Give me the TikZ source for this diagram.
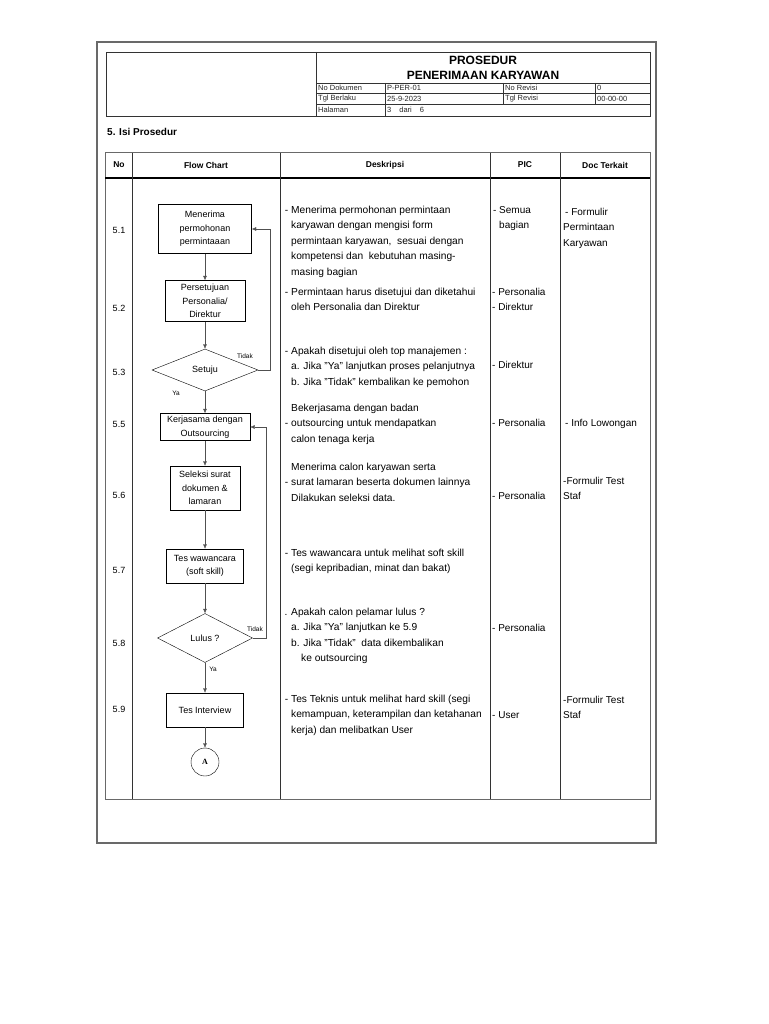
\documentclass[tikz,border=0pt]{standalone}
\usepackage{fontspec}
\setmainfont{Liberation Sans}
\newfontfamily\letterfont{Liberation Serif}
\usetikzlibrary{positioning, arrows.meta, shapes.geometric}
\definecolor{frameGray}{RGB}{105,105,105}
\definecolor{lineGray}{RGB}{80,80,80}

\begin{document}
\begin{tikzpicture}[x=1pt, y=-1pt,
  stepbox/.style={draw=black, align=center, inner sep=1pt, font=\fontsize{9}{13.5}\selectfont},
  decision/.style={diamond, draw=black, inner sep=0pt, aspect=2.5, font=\fontsize{9}{12}\selectfont},
  flow/.style={draw=lineGray, -{Latex[length=4.5pt,width=4pt]}},
  desc/.style={font=\fontsize{10.2}{15.4}\selectfont, align=left, anchor=north west, inner sep=0pt},
  pic/.style={font=\fontsize{10}{15.5}\selectfont, align=left, anchor=north west, inner sep=0pt},
  num/.style={font=\fontsize{9}{11}\selectfont, inner sep=0pt},
  colhead/.style={font=\fontsize{8.5}{10}\selectfont\bfseries, inner sep=0pt},
  meta/.style={font=\fontsize{7.5}{9}\selectfont, anchor=west, inner sep=0pt, text=black!85},
  tag/.style={font=\fontsize{6.5}{8}\selectfont, inner sep=0pt},
]
  \useasboundingbox[fill=white] (0,0) rectangle (768,1024);

  % page frame and header block
  \draw[frameGray, line width=1.5pt] (97,42) rectangle (656,843);
  \draw[black!80, line width=0.8pt] (106,52) rectangle (650,116);
  \draw[black!80, line width=0.8pt] (316,52) -- (316,116);
  \draw[black!80, line width=0.6pt] (316,83) -- (650,83) (316,93) -- (650,93) (316,104) -- (650,104);
  \draw[black!80, line width=0.6pt] (385,83) -- (385,116) (503,83) -- (503,104) (595,83) -- (595,104);

  \node[font=\fontsize{12}{14}\selectfont\bfseries, inner sep=0pt] (title1) at (483,60) {PROSEDUR};
  \node[font=\fontsize{12}{14}\selectfont\bfseries, inner sep=0pt] (title2) at (483,75) {PENERIMAAN KARYAWAN};
  \node[meta] (m1) at (318,88) {No Dokumen};
  \node[meta] (m2) at (387,88) {P-PER-01};
  \node[meta] (m3) at (505,88) {No Revisi};
  \node[meta] (m4) at (597,88) {0};
  \node[meta] (m5) at (318,98.5) {Tgl Berlaku};
  \node[meta] (m6) at (387,98.5) {25-9-2023};
  \node[meta] (m7) at (505,98.5) {Tgl Revisi};
  \node[meta] (m8) at (597,98.5) {00-00-00};
  \node[meta] (m9) at (318,110) {Halaman};
  \node[meta] (m10) at (387,110) {3\hspace{8pt}dari\hspace{8pt}6};

  \node[font=\fontsize{10}{12}\selectfont\bfseries, anchor=west, inner sep=0pt] (sect) at (107,132) {5. Isi Prosedur};

  % table grid
  \draw[frameGray, line width=1pt] (105,153) rectangle (650,799);
  \draw[black, line width=1.6pt] (105,178) -- (650,178);
  \foreach \x in {132,280,490,560}
    \draw[black!80, line width=0.8pt] (\x,153) -- (\x,799);

  \node[colhead] (h1) at (119,165) {No};
  \node[colhead] (h2) at (206,165) {Flow Chart};
  \node[colhead] (h3) at (385,165) {Deskripsi};
  \node[colhead] (h4) at (525,165) {PIC};
  \node[colhead] (h5) at (605,165) {Doc Terkait};

  \foreach \n/\y [count=\i] in {5.1/230,5.2/308,5.3/372,5.5/424,5.6/495,5.7/570,5.8/643,5.9/709}
    \node[num] (no\i) at (119,\y) {\n};

  % flow chart
  \node[stepbox, minimum width=93, minimum height=49] (recv) at (205,229) {Menerima\\permohonan\\permintaaan};
  \node[stepbox, minimum width=80, minimum height=41] (appr) at (205,301) {Persetujuan\\Personalia/\\Direktur};
  \node[decision, minimum width=106, minimum height=42] (agree) at (205,370) {Setuju};
  \node[stepbox, minimum width=90, minimum height=27] (outs) at (205,427) {Kerjasama dengan\\Outsourcing};
  \node[stepbox, minimum width=70, minimum height=44] (selek) at (205,488) {Seleksi surat\\dokumen \&\\lamaran};
  \node[stepbox, minimum width=77, minimum height=34] (wawan) at (205,566) {Tes wawancara\\(soft skill)};
  \node[decision, minimum width=95, minimum height=49] (pass) at (205,638) {Lulus ?};
  \node[stepbox, minimum width=77, minimum height=34] (intv) at (205,710) {Tes Interview};
  \node[circle, draw=black, minimum size=28, inner sep=0pt, font=\letterfont\fontsize{8}{9}\selectfont\bfseries] (conA) at (205,762) {A};

  \draw[flow] (recv) -- (appr);
  \draw[flow] (appr) -- (agree);
  \draw[flow] (agree) -- (outs);
  \draw[flow] (outs) -- (selek);
  \draw[flow] (selek) -- (wawan);
  \draw[flow] (wawan) -- (pass);
  \draw[flow] (pass) -- (intv);
  \draw[flow] (intv) -- (conA);
  \draw[flow] (agree.east) -- ++(12,0) |- (recv.east);
  \draw[flow] (pass.east) -- ++(13,0) |- (outs.east);

  \node[tag] (no1) at (245,356) {Tidak};
  \node[tag] (yes1) at (176,393) {Ya};
  \node[tag] (no2) at (255,629) {Tidak};
  \node[tag] (yes2) at (213,669) {Ya};

  % deskripsi
  \node[desc] (d1) at (291,206) {\llap{- }Menerima permohonan permintaan\\karyawan dengan mengisi form\\permintaan karyawan,\ \ sesuai dengan\\kompetensi dan\ \ kebutuhan masing-\\masing bagian};
  \node[desc] (d2) at (291,288) {\llap{- }Permintaan harus disetujui dan diketahui\\oleh Personalia dan Direktur};
  \node[desc] (d3) at (291,347) {\llap{- }Apakah disetujui oleh top manajemen :\\a. Jika "Ya" lanjutkan proses pelanjutnya\\b. Jika "Tidak" kembalikan ke pemohon};
  \node[desc] (d5) at (291,404) {Bekerjasama dengan badan\\\llap{- }outsourcing untuk mendapatkan\\calon tenaga kerja};
  \node[desc] (d6) at (291,463) {Menerima calon karyawan serta\\\llap{- }surat lamaran beserta dokumen lainnya\\Dilakukan seleksi data.};
  \node[desc] (d7) at (291,549) {\llap{- }Tes wawancara untuk melihat soft skill\\(segi kepribadian, minat dan bakat)};
  \node[desc] (d8) at (291,608) {\llap{. }Apakah calon pelamar lulus ?\\a. Jika "Ya" lanjutkan ke 5.9\\b. Jika "Tidak"\ \ data dikembalikan\\\hspace*{10pt}ke outsourcing};
  \node[desc] (d9) at (291,695) {\llap{- }Tes Teknis untuk melihat hard skill (segi\\kemampuan, keterampilan dan ketahanan\\kerja) dan melibatkan User};

  % pic
  \node[pic] (p1) at (499,206) {\llap{- }Semua\\bagian};
  \node[pic] (p2) at (492,288) {- Personalia\\- Direktur};
  \node[pic] (p3) at (492,361) {- Direktur};
  \node[pic] (p5) at (492,419) {- Personalia};
  \node[pic] (p6) at (492,492) {- Personalia};
  \node[pic] (p8) at (492,624) {- Personalia};
  \node[pic] (p9) at (492,711) {- User};

  % doc terkait
  \node[pic] (c1) at (563,208) {\hspace*{2pt}- Formulir\\Permintaan\\Karyawan};
  \node[pic] (c5) at (565,419) {- Info Lowongan};
  \node[pic] (c6) at (563,477) {-Formulir Test\\Staf};
  \node[pic] (c9) at (563,696) {-Formulir Test\\Staf};
\end{tikzpicture}
\end{document}
